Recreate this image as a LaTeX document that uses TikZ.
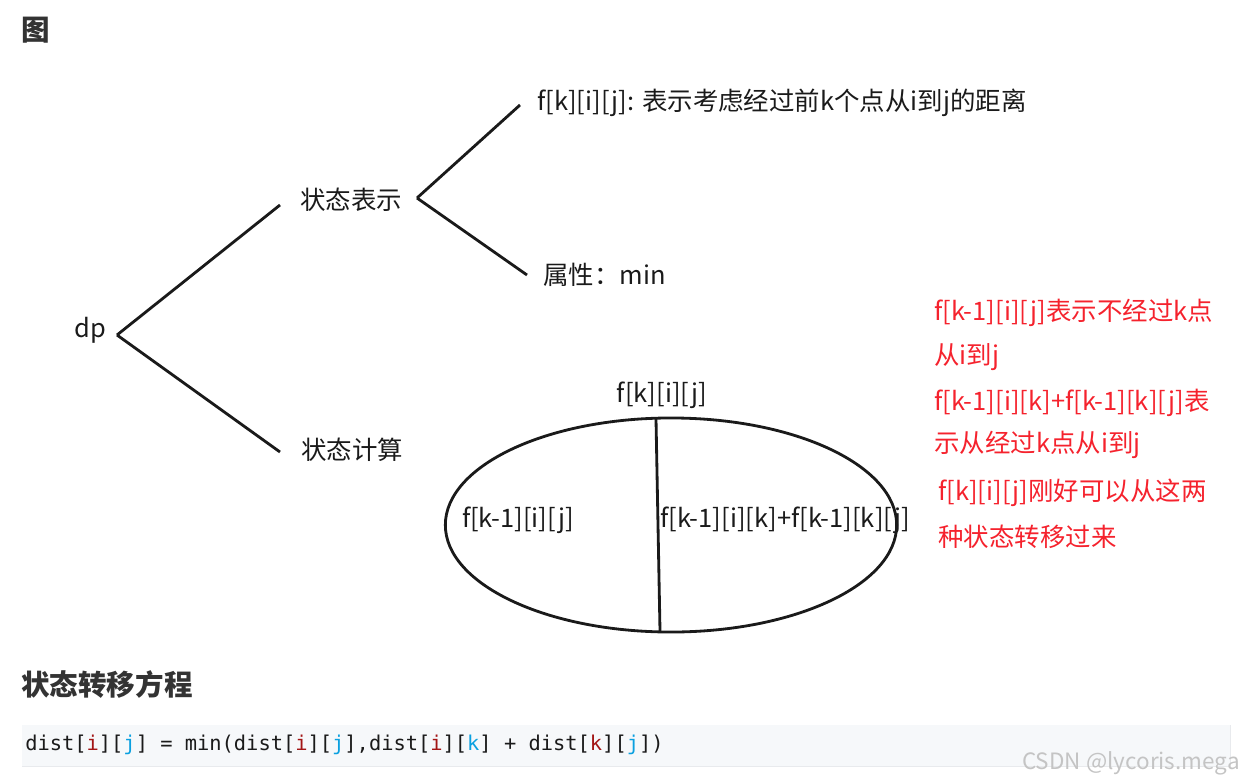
\documentclass[tikz,border=0pt]{standalone}
\usepackage{fontspec}
\setmainfont{Noto Sans CJK SC}
\setmonofont{DejaVu Sans Mono}
\usetikzlibrary{positioning,shapes.geometric}
\definecolor{ink}{HTML}{1A1A1A}
\definecolor{head}{HTML}{333333}
\definecolor{note}{HTML}{F5222D}
\definecolor{codebg}{HTML}{F6F8FA}
\definecolor{codeline}{HTML}{E8EAED}
\definecolor{idxi}{HTML}{A31515}
\definecolor{idxj}{HTML}{0AA0E0}
\definecolor{mark}{HTML}{C4C4C4}
\newcommand{\ii}[1]{\textcolor{idxi}{#1}}
\newcommand{\jj}[1]{\textcolor{idxj}{#1}}
\tikzset{x=0.025cm,y=-0.025cm,
  every node/.style={font=\fontsize{18.1}{22}\selectfont,text=ink,inner sep=0pt},
  branch/.style={draw=ink,line width=2pt},
  label/.style={anchor=west},
  rednote/.style={anchor=west,text=note},
  heading/.style={anchor=west,text=head,font=\fontsize{20.3}{24}\selectfont\bfseries}}
\begin{document}
\begin{tikzpicture}
\useasboundingbox (0,0) rectangle (1242,782);
\node[heading] (h1) at (21,30) {图};
% tree
\node[label] (dp) at (74,330) {dp};
\node[label] (repr) at (300,200) {状态表示};
\node[label] (comp) at (301,450) {状态计算};
\node[label] (def) at (537,103) {f[k][i][j]: 表示考虑经过前k个点从i到j的距离};
\node[label] (attr) at (543,275) {属性：min};
\coordinate (dpr) at (117,335);
\coordinate (rl) at (417,198);
\draw[branch] (dpr) -- (280,205);
\draw[branch] (dpr) -- (280,452);
\draw[branch] (rl) -- (520,105);
\draw[branch] (rl) -- (527,275);
% set split
\node[draw=ink,line width=2pt,ellipse,minimum width=11.28cm,minimum height=5.35cm] (set) at (671,525) {};
\coordinate (divtop) at (656,419);
\coordinate (divbot) at (660,631);
\draw[branch] (divtop) -- (divbot);
\node (whole) at (662,395) {f[k][i][j]};
\node (left) at (518,520) {f[k-1][i][j]};
\node[label] (right) at (660,520) {f[k-1][i][k]+f[k-1][k][j]};
% notes
\node[rednote] (n1) at (934,313) {f[k-1][i][j]表示不经过k点};
\node[rednote] (n2) at (934,357) {从i到j};
\node[rednote] (n3) at (934,403) {f[k-1][i][k]+f[k-1][k][j]表};
\node[rednote] (n4) at (934,445) {示从经过k点从i到j};
\node[rednote] (n5) at (938,493) {f[k][i][j]刚好可以从这两};
\node[rednote] (n6) at (938,537) {种状态转移过来};
% equation
\node[heading] (h2) at (21,685) {状态转移方程};
\fill[codebg] (22,725) rectangle (1230,766);
\draw[codeline,line width=.4pt] (22,766) -- (1230,766) -- (1230,725);
\node[label,font=\fontsize{14.5}{17}\selectfont\ttfamily] (eq) at (25,745)
  {dist[\ii{i}][\jj{j}] = min(dist[\ii{i}][\jj{j}],dist[\ii{i}][\jj{k}] + dist[\ii{k}][\jj{j}])};
\node[anchor=east,text=mark,font=\fontsize{16}{18}\selectfont] (wm) at (1240,763) {CSDN @lycoris.mega};
\end{tikzpicture}
\end{document}
